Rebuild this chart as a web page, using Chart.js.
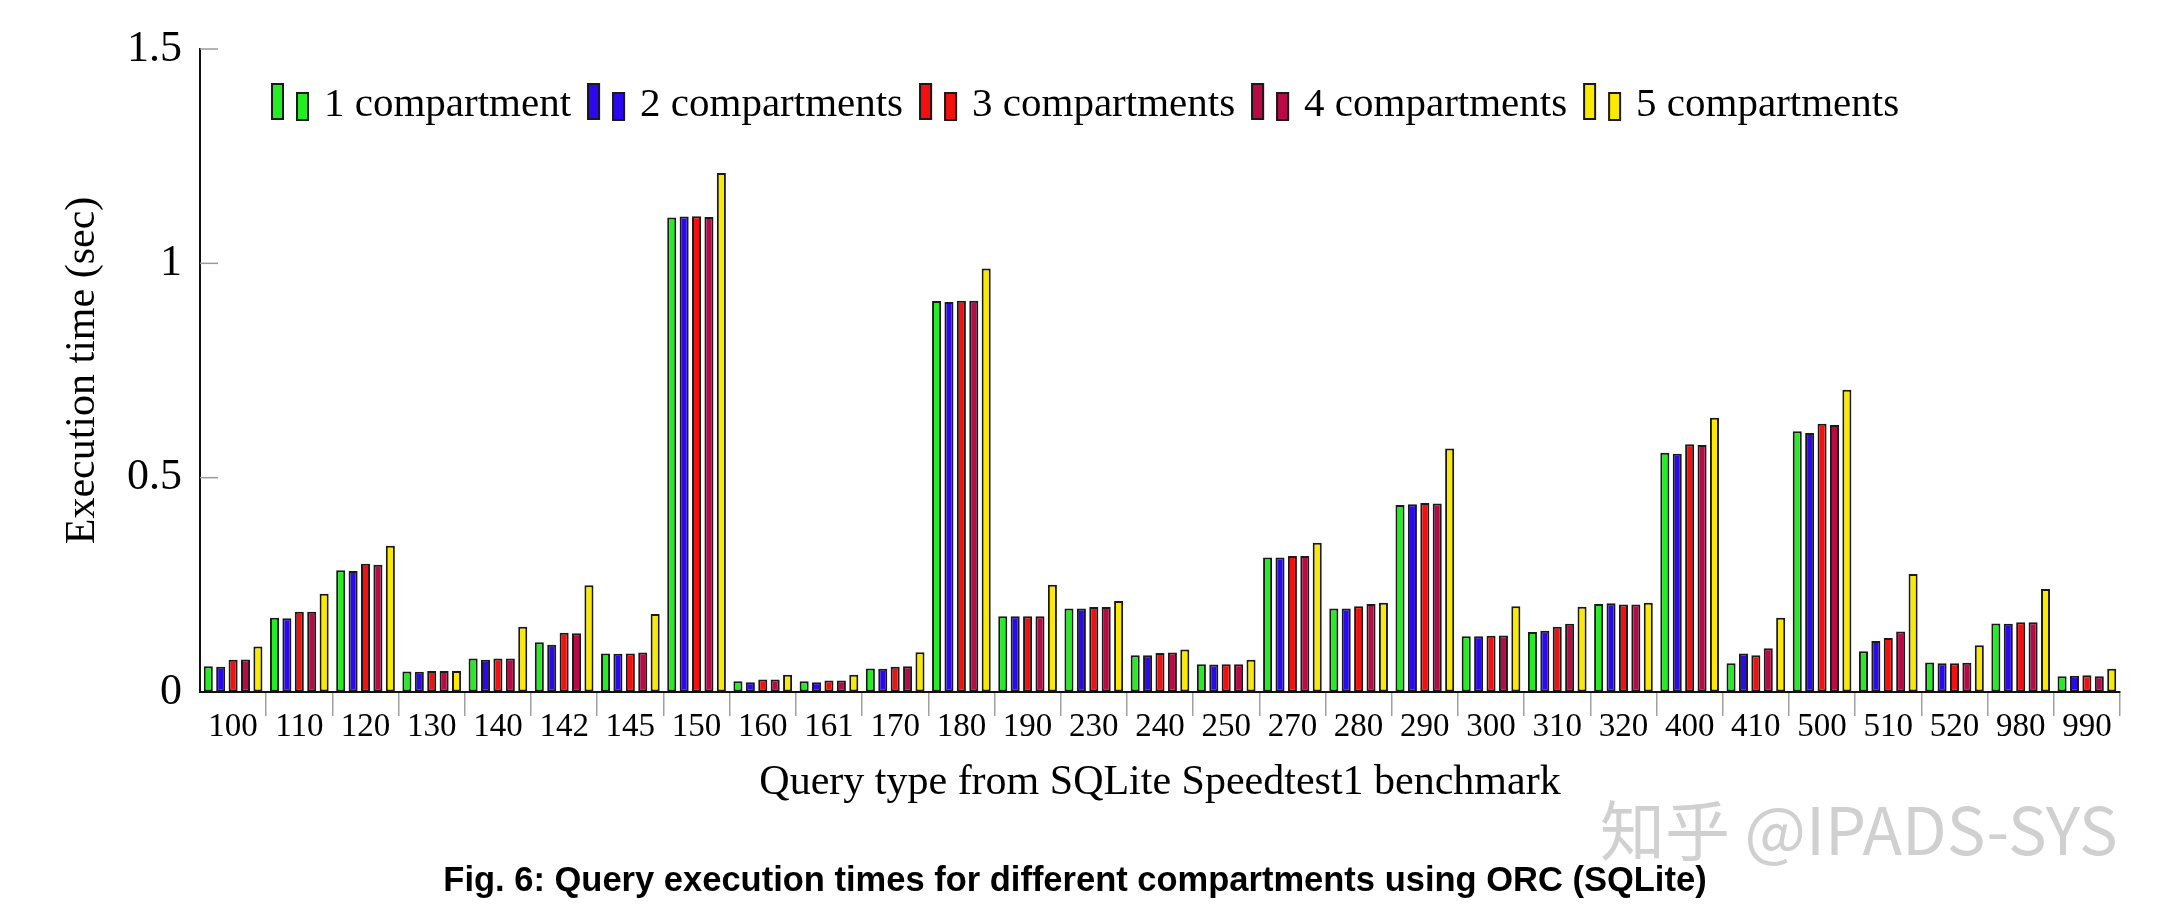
<!DOCTYPE html>
<html>
<head>
<meta charset="utf-8">
<script src="https://cdn.jsdelivr.net/npm/chart.js@4.4.1/dist/chart.umd.min.js"></script>
<style>
  html, body { margin: 0; padding: 0; background: #fff; }
  #wrap { position: relative; width: 2180px; height: 918px; }
  #queryChart { position: absolute; left: 0; top: 0; }
  .caption { position: absolute; left: 0; width: 2150px; top: 860px; line-height: 40px; text-align: center;
             font: bold 34.5px "Liberation Sans", Arial, sans-serif; color: #000; }
  .mark { position: absolute; left: 1600px; top: 795px; line-height: 1; font-size: 65px;
          font-family: "Noto Sans CJK SC", sans-serif; color: #d0d0d0; }
</style>
</head>
<body>
<div id="wrap">
  <canvas id="queryChart" width="2180" height="918"></canvas>
  <div class="mark">知乎 @IPADS-SYS</div>
  <div class="caption">Fig. 6: Query execution times for different compartments using ORC (SQLite)</div>
</div>
<script>
const categories = ['100', '110', '120', '130', '140', '142', '145', '150', '160', '161', '170', '180', '190', '230',
                    '240', '250', '270', '280', '290', '300', '310', '320', '400', '410', '500', '510', '520', '980', '990'];

const comp1 = [0.060, 0.173, 0.284, 0.048, 0.078, 0.116, 0.090, 1.107, 0.025, 0.025, 0.055, 0.912, 0.177, 0.195,
               0.086, 0.065, 0.314, 0.195, 0.436, 0.130, 0.140, 0.205, 0.558, 0.067, 0.608, 0.095, 0.069, 0.160, 0.037];
const comp2 = [0.059, 0.172, 0.282, 0.047, 0.075, 0.110, 0.089, 1.109, 0.023, 0.023, 0.054, 0.910, 0.177, 0.195,
               0.086, 0.064, 0.314, 0.195, 0.438, 0.130, 0.143, 0.207, 0.556, 0.090, 0.604, 0.119, 0.067, 0.159, 0.038];
const comp3 = [0.075, 0.187, 0.299, 0.049, 0.078, 0.138, 0.090, 1.110, 0.029, 0.027, 0.059, 0.913, 0.177, 0.198,
               0.091, 0.065, 0.317, 0.200, 0.441, 0.131, 0.152, 0.204, 0.578, 0.086, 0.626, 0.126, 0.067, 0.163, 0.039];
const comp4 = [0.076, 0.187, 0.297, 0.049, 0.078, 0.137, 0.092, 1.108, 0.029, 0.027, 0.060, 0.913, 0.177, 0.198,
               0.092, 0.065, 0.317, 0.205, 0.440, 0.132, 0.159, 0.204, 0.576, 0.102, 0.623, 0.141, 0.068, 0.163, 0.037];
const comp5 = [0.106, 0.229, 0.341, 0.049, 0.152, 0.249, 0.182, 1.211, 0.040, 0.040, 0.093, 0.988, 0.250, 0.212,
               0.099, 0.075, 0.348, 0.208, 0.568, 0.200, 0.199, 0.208, 0.640, 0.173, 0.705, 0.275, 0.109, 0.240, 0.054];

const seriesNames = ['1 compartment', '2 compartments', '3 compartments', '4 compartments', '5 compartments'];
const seriesColors = ['#22ee22', '#2a08f0', '#f51010', '#b80a44', '#fbe900'];
const yTicks = [0, 0.5, 1, 1.5];

const serif = '"Liberation Serif", "Times New Roman", serif';

// legend drawn inside the plot, two little bars per entry like pgfplots
const legendInside = {
    id: 'legendInside',
    afterDraw(chart) {
        const ctx = chart.ctx;
        const area = chart.chartArea;
        const base = area.top + 71;
        let x = area.left + 71;
        ctx.save();
        ctx.font = '41px ' + serif;
        ctx.textBaseline = 'alphabetic';
        ctx.lineWidth = 2;
        ctx.strokeStyle = '#1a1a1a';
        chart.data.datasets.forEach(ds => {
            ctx.fillStyle = ds.backgroundColor;
            ctx.fillRect(x, base - 37, 13, 37);
            ctx.strokeRect(x + 1, base - 36, 11, 35);
            ctx.fillRect(x + 25, base - 28, 13, 28);
            ctx.strokeRect(x + 26, base - 27, 11, 27);
            ctx.fillStyle = '#000';
            ctx.fillText(ds.label, x + 53, base - 4);
            x += 53 + ctx.measureText(ds.label).width + 16;
        });
        ctx.restore();
    }
};

// small inward tick marks on the y axis
const innerTicks = {
    id: 'innerTicks',
    afterDatasetsDraw(chart) {
        const ctx = chart.ctx;
        const y = chart.scales.y;
        ctx.save();
        ctx.strokeStyle = '#9a9a9a';
        ctx.lineWidth = 1.5;
        yTicks.forEach(v => {
            if (v === 0) return;
            const py = y.getPixelForValue(v);
            ctx.beginPath();
            ctx.moveTo(y.right, py);
            ctx.lineTo(y.right + 18, py);
            ctx.stroke();
        });
        ctx.restore();
    }
};

const ctx = document.getElementById('queryChart').getContext('2d');
const datasets = [comp1, comp2, comp3, comp4, comp5].map((values, i) => ({
    label: seriesNames[i],
    data: values,
    backgroundColor: seriesColors[i],
    borderColor: '#1a1a1a',
    borderWidth: 2,
    borderSkipped: false,
    categoryPercentage: 0.937,
    barPercentage: 0.73
}));

new Chart(ctx, {
    type: 'bar',
    data: { labels: categories, datasets: datasets },
    options: {
        responsive: false,
        animation: false,
        devicePixelRatio: 1,
        layout: { padding: { left: 0, top: 49, right: 60, bottom: 96 } },
        plugins: { legend: { display: false }, tooltip: { enabled: false } },
        scales: {
            x: {
                afterFit(scale) { scale.height = 130; },
                grid: {
                    offset: true,
                    drawOnChartArea: false,
                    drawTicks: true,
                    tickLength: 24,
                    lineWidth: 1.5,
                    color: c => (c.index === 0 || c.index === categories.length) ? 'rgba(0,0,0,0)' : '#a0a0a0'
                },
                border: { display: true, color: '#111', width: 2 },
                ticks: { color: '#000', font: { family: serif, size: 33 }, padding: -8, maxRotation: 0, autoSkip: false },
                title: {
                    display: true,
                    text: 'Query type from SQLite Speedtest1 benchmark',
                    color: '#000',
                    font: { family: serif, size: 42 },
                    padding: { top: 0, bottom: 14 }
                }
            },
            y: {
                min: 0,
                max: 1.5,
                afterFit(scale) { scale.width = 200; },
                afterBuildTicks(scale) { scale.ticks = yTicks.map(v => ({ value: v })); },
                grid: { display: true, drawOnChartArea: false, drawTicks: false },
                border: { display: true, color: '#111', width: 2 },
                ticks: { color: '#000', font: { family: serif, size: 44 }, padding: 18, callback: v => String(v) },
                title: {
                    display: true,
                    text: 'Execution time (sec)',
                    color: '#000',
                    font: { family: serif, size: 42 },
                    padding: { top: 58, bottom: 0 }
                }
            }
        }
    },
    plugins: [legendInside, innerTicks]
});
</script>
</body>
</html>
